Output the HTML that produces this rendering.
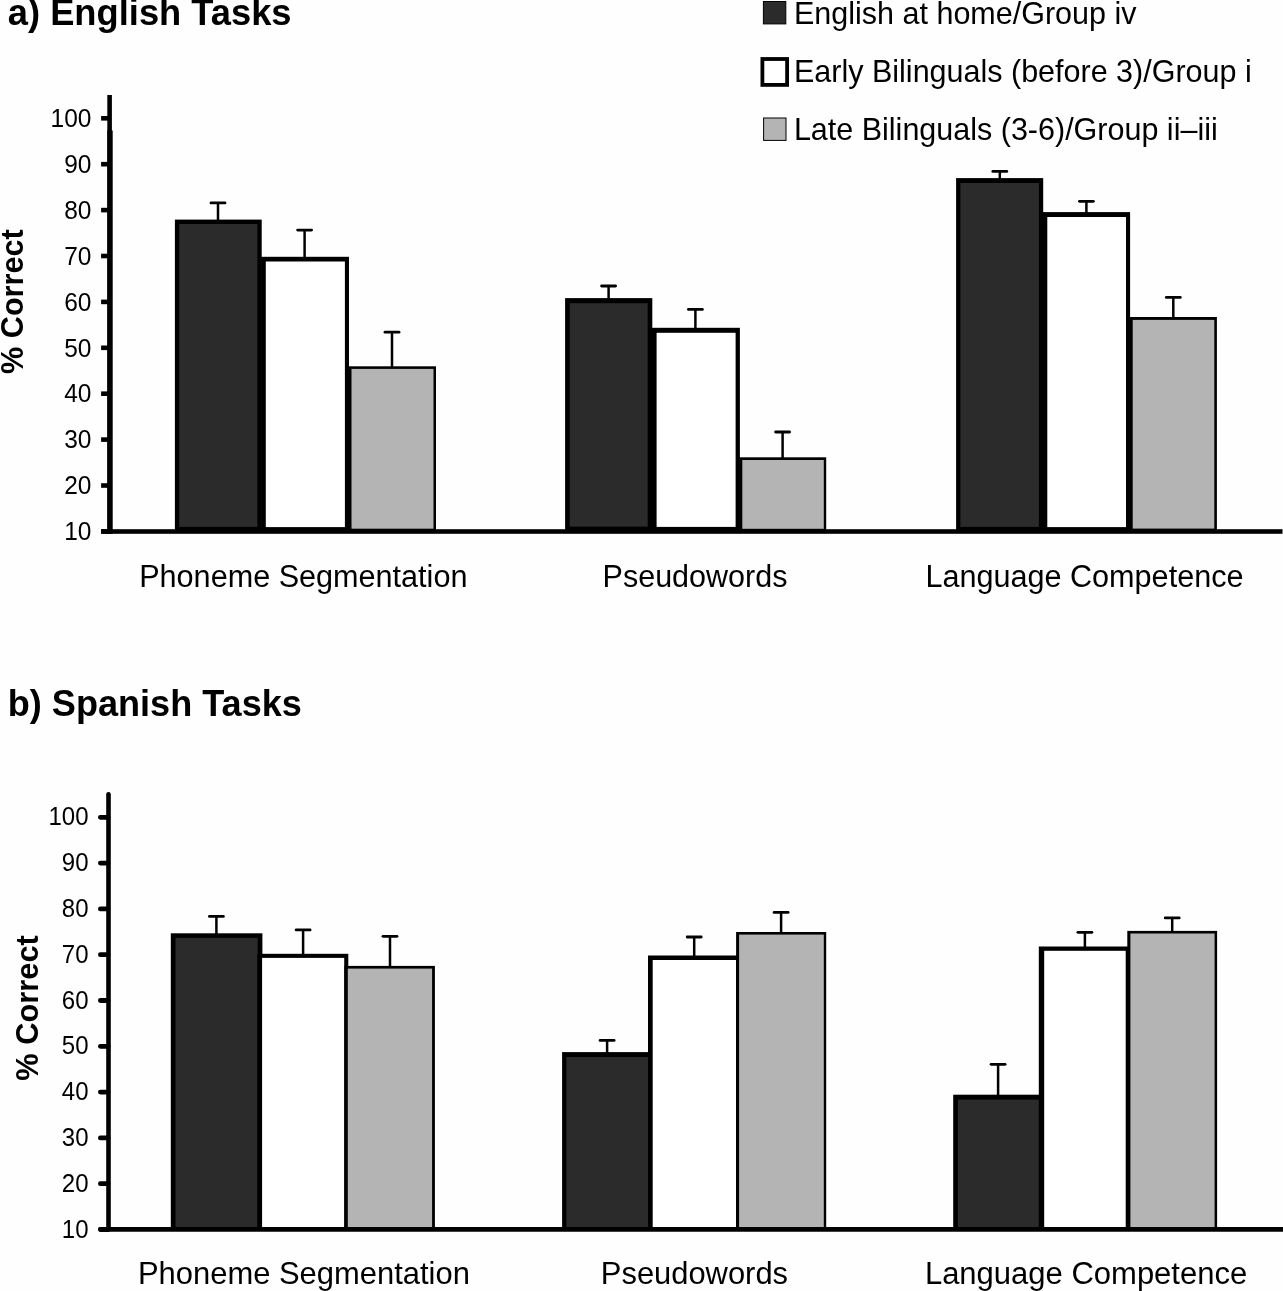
<!DOCTYPE html>
<html><head><meta charset="utf-8"><title>English and Spanish Tasks</title>
<style>
html,body{margin:0;padding:0;background:#fff;}
body{width:1283px;height:1291px;overflow:hidden;}
svg{display:block;font-family:"Liberation Sans",Arial,sans-serif;}
</style></head><body>
<svg width="1283" height="1291" viewBox="0 0 1283 1291">
<rect width="1283" height="1291" fill="#fefefe"/>
<text x="7.80" y="24.50" font-size="36.3" font-weight="bold" text-anchor="start">a) English Tasks</text>
<text x="7.80" y="715.90" font-size="36.1" font-weight="bold" text-anchor="start">b) Spanish Tasks</text>
<rect x="763.4" y="1.5" width="22.4" height="22.4" fill="#2b2b2b" stroke="#000" stroke-width="1"/>
<rect x="762.4" y="59.0" width="24.7" height="25.9" fill="#fff" stroke="#000" stroke-width="3.8"/>
<rect x="763.6" y="118.0" width="22.4" height="22.4" fill="#b4b4b4" stroke="#000" stroke-width="1"/>
<text x="794.00" y="23.60" font-size="30.5" text-anchor="start">English at home/Group iv</text>
<text x="794.00" y="81.90" font-size="30.5" text-anchor="start">Early Bilinguals (before 3)/Group i</text>
<text x="793.90" y="140.20" font-size="30.5" text-anchor="start">Late Bilinguals (3-6)/Group ii&#8211;iii</text>
<rect x="107.30" y="95.00" width="4.60" height="36.00" fill="#000"/>
<rect x="107.10" y="130.50" width="5.60" height="403.40" fill="#000"/>
<rect x="101.10" y="116.00" width="6.90" height="4.60" fill="#000"/>
<text transform="translate(91.40 127.00) scale(1 1.04)" font-size="24.5" text-anchor="end">100</text>
<rect x="101.10" y="161.90" width="6.90" height="4.60" fill="#000"/>
<text transform="translate(91.40 172.90) scale(1 1.04)" font-size="24.5" text-anchor="end">90</text>
<rect x="101.10" y="207.80" width="6.90" height="4.60" fill="#000"/>
<text transform="translate(91.40 218.80) scale(1 1.04)" font-size="24.5" text-anchor="end">80</text>
<rect x="101.10" y="253.70" width="6.90" height="4.60" fill="#000"/>
<text transform="translate(91.40 264.70) scale(1 1.04)" font-size="24.5" text-anchor="end">70</text>
<rect x="101.10" y="299.60" width="6.90" height="4.60" fill="#000"/>
<text transform="translate(91.40 310.60) scale(1 1.04)" font-size="24.5" text-anchor="end">60</text>
<rect x="101.10" y="345.50" width="6.90" height="4.60" fill="#000"/>
<text transform="translate(91.40 356.50) scale(1 1.04)" font-size="24.5" text-anchor="end">50</text>
<rect x="101.10" y="391.40" width="6.90" height="4.60" fill="#000"/>
<text transform="translate(91.40 402.40) scale(1 1.04)" font-size="24.5" text-anchor="end">40</text>
<rect x="101.10" y="437.30" width="6.90" height="4.60" fill="#000"/>
<text transform="translate(91.40 448.30) scale(1 1.04)" font-size="24.5" text-anchor="end">30</text>
<rect x="101.10" y="483.20" width="6.90" height="4.60" fill="#000"/>
<text transform="translate(91.40 494.20) scale(1 1.04)" font-size="24.5" text-anchor="end">20</text>
<rect x="101.10" y="529.10" width="6.90" height="4.60" fill="#000"/>
<text transform="translate(91.40 540.10) scale(1 1.04)" font-size="24.5" text-anchor="end">10</text>
<rect x="174.90" y="219.60" width="86.80" height="311.60" fill="#000"/>
<rect x="179.20" y="224.00" width="78.20" height="302.90" fill="#2b2b2b"/>
<rect x="261.10" y="256.80" width="87.90" height="274.40" fill="#000"/>
<rect x="265.80" y="261.50" width="79.10" height="265.60" fill="#fff"/>
<rect x="348.40" y="366.30" width="87.60" height="164.90" fill="#000"/>
<rect x="351.50" y="368.90" width="82.00" height="159.80" fill="#b4b4b4"/>
<rect x="565.10" y="298.10" width="87.20" height="233.10" fill="#000"/>
<rect x="569.70" y="303.20" width="78.00" height="223.40" fill="#2b2b2b"/>
<rect x="651.70" y="327.80" width="88.20" height="203.40" fill="#000"/>
<rect x="656.60" y="332.80" width="79.00" height="194.10" fill="#fff"/>
<rect x="739.30" y="457.30" width="86.90" height="73.90" fill="#000"/>
<rect x="742.30" y="460.00" width="81.50" height="68.80" fill="#b4b4b4"/>
<rect x="956.10" y="178.10" width="87.10" height="353.10" fill="#000"/>
<rect x="960.40" y="183.00" width="78.50" height="343.90" fill="#2b2b2b"/>
<rect x="1042.60" y="212.10" width="87.50" height="319.10" fill="#000"/>
<rect x="1047.30" y="217.00" width="78.70" height="310.10" fill="#fff"/>
<rect x="1129.50" y="317.00" width="87.40" height="214.20" fill="#000"/>
<rect x="1132.70" y="319.90" width="81.60" height="208.70" fill="#b4b4b4"/>
<rect x="101.10" y="529.20" width="1181.40" height="4.60" fill="#000"/>
<line x1="218.00" y1="202.90" x2="218.00" y2="220.60" stroke="#000" stroke-width="2.5"/>
<line x1="211.00" y1="202.90" x2="225.00" y2="202.90" stroke="#000" stroke-width="2.8" stroke-linecap="round"/>
<line x1="304.60" y1="230.10" x2="304.60" y2="257.80" stroke="#000" stroke-width="2.5"/>
<line x1="297.60" y1="230.10" x2="311.60" y2="230.10" stroke="#000" stroke-width="2.8" stroke-linecap="round"/>
<line x1="392.00" y1="332.20" x2="392.00" y2="367.30" stroke="#000" stroke-width="2.5"/>
<line x1="385.00" y1="332.20" x2="399.00" y2="332.20" stroke="#000" stroke-width="2.8" stroke-linecap="round"/>
<line x1="608.60" y1="286.00" x2="608.60" y2="299.10" stroke="#000" stroke-width="2.5"/>
<line x1="601.60" y1="286.00" x2="615.60" y2="286.00" stroke="#000" stroke-width="2.8" stroke-linecap="round"/>
<line x1="695.40" y1="309.40" x2="695.40" y2="328.80" stroke="#000" stroke-width="2.5"/>
<line x1="688.40" y1="309.40" x2="702.40" y2="309.40" stroke="#000" stroke-width="2.8" stroke-linecap="round"/>
<line x1="782.60" y1="432.00" x2="782.60" y2="458.30" stroke="#000" stroke-width="2.5"/>
<line x1="775.60" y1="432.00" x2="789.60" y2="432.00" stroke="#000" stroke-width="2.8" stroke-linecap="round"/>
<line x1="999.80" y1="171.40" x2="999.80" y2="179.10" stroke="#000" stroke-width="2.5"/>
<line x1="992.80" y1="171.40" x2="1006.80" y2="171.40" stroke="#000" stroke-width="2.8" stroke-linecap="round"/>
<line x1="1086.40" y1="201.30" x2="1086.40" y2="213.10" stroke="#000" stroke-width="2.5"/>
<line x1="1079.40" y1="201.30" x2="1093.40" y2="201.30" stroke="#000" stroke-width="2.8" stroke-linecap="round"/>
<line x1="1173.30" y1="297.40" x2="1173.30" y2="318.00" stroke="#000" stroke-width="2.5"/>
<line x1="1166.30" y1="297.40" x2="1180.30" y2="297.40" stroke="#000" stroke-width="2.8" stroke-linecap="round"/>
<text transform="translate(22.9 373.9) rotate(-90)" font-size="30.6" font-weight="bold">% Correct</text>
<text x="139.20" y="586.90" font-size="30.6" text-anchor="start">Phoneme Segmentation</text>
<text x="602.60" y="586.60" font-size="30.5" text-anchor="start">Pseudowords</text>
<text x="925.40" y="587.00" font-size="30.6" text-anchor="start">Language Competence</text>
<line x1="108.5" y1="794.3" x2="108.5" y2="1229.4" stroke="#000" stroke-width="4.6" stroke-linecap="round"/>
<line x1="100.4" y1="817.30" x2="108" y2="817.30" stroke="#000" stroke-width="4.8" stroke-linecap="round"/>
<text transform="translate(88.50 825.30) scale(1 1.04)" font-size="24.0" text-anchor="end">100</text>
<line x1="100.4" y1="863.10" x2="108" y2="863.10" stroke="#000" stroke-width="4.8" stroke-linecap="round"/>
<text transform="translate(88.50 871.10) scale(1 1.04)" font-size="24.0" text-anchor="end">90</text>
<line x1="100.4" y1="908.90" x2="108" y2="908.90" stroke="#000" stroke-width="4.8" stroke-linecap="round"/>
<text transform="translate(88.50 916.90) scale(1 1.04)" font-size="24.0" text-anchor="end">80</text>
<line x1="100.4" y1="954.70" x2="108" y2="954.70" stroke="#000" stroke-width="4.8" stroke-linecap="round"/>
<text transform="translate(88.50 962.70) scale(1 1.04)" font-size="24.0" text-anchor="end">70</text>
<line x1="100.4" y1="1000.50" x2="108" y2="1000.50" stroke="#000" stroke-width="4.8" stroke-linecap="round"/>
<text transform="translate(88.50 1008.50) scale(1 1.04)" font-size="24.0" text-anchor="end">60</text>
<line x1="100.4" y1="1046.30" x2="108" y2="1046.30" stroke="#000" stroke-width="4.8" stroke-linecap="round"/>
<text transform="translate(88.50 1054.30) scale(1 1.04)" font-size="24.0" text-anchor="end">50</text>
<line x1="100.4" y1="1092.10" x2="108" y2="1092.10" stroke="#000" stroke-width="4.8" stroke-linecap="round"/>
<text transform="translate(88.50 1100.10) scale(1 1.04)" font-size="24.0" text-anchor="end">40</text>
<line x1="100.4" y1="1137.90" x2="108" y2="1137.90" stroke="#000" stroke-width="4.8" stroke-linecap="round"/>
<text transform="translate(88.50 1145.90) scale(1 1.04)" font-size="24.0" text-anchor="end">30</text>
<line x1="100.4" y1="1183.70" x2="108" y2="1183.70" stroke="#000" stroke-width="4.8" stroke-linecap="round"/>
<text transform="translate(88.50 1191.70) scale(1 1.04)" font-size="24.0" text-anchor="end">20</text>
<line x1="100.4" y1="1229.50" x2="108" y2="1229.50" stroke="#000" stroke-width="4.8" stroke-linecap="round"/>
<text transform="translate(88.50 1237.50) scale(1 1.04)" font-size="24.0" text-anchor="end">10</text>
<rect x="170.80" y="933.30" width="91.60" height="296.10" fill="#000"/>
<rect x="175.50" y="937.90" width="82.20" height="291.50" fill="#2b2b2b"/>
<rect x="257.40" y="953.80" width="90.90" height="275.60" fill="#000"/>
<rect x="262.10" y="957.90" width="82.10" height="271.50" fill="#fff"/>
<rect x="344.40" y="965.90" width="90.50" height="263.50" fill="#000"/>
<rect x="347.80" y="968.60" width="84.30" height="260.80" fill="#b4b4b4"/>
<rect x="562.10" y="1052.10" width="90.60" height="177.30" fill="#000"/>
<rect x="566.40" y="1057.00" width="82.00" height="172.40" fill="#2b2b2b"/>
<rect x="648.00" y="955.50" width="92.20" height="273.90" fill="#000"/>
<rect x="652.70" y="960.00" width="83.40" height="269.40" fill="#fff"/>
<rect x="736.10" y="932.00" width="90.10" height="297.40" fill="#000"/>
<rect x="739.10" y="934.60" width="84.70" height="294.80" fill="#b4b4b4"/>
<rect x="953.20" y="1094.70" width="91.00" height="134.70" fill="#000"/>
<rect x="957.90" y="1099.60" width="81.60" height="129.80" fill="#2b2b2b"/>
<rect x="1038.80" y="946.50" width="91.70" height="282.90" fill="#000"/>
<rect x="1044.20" y="950.80" width="81.50" height="278.60" fill="#fff"/>
<rect x="1127.30" y="930.90" width="89.80" height="298.50" fill="#000"/>
<rect x="1130.40" y="933.50" width="84.20" height="295.90" fill="#b4b4b4"/>
<line x1="100.4" y1="1229.35" x2="1290" y2="1229.35" stroke="#000" stroke-width="4.7" stroke-linecap="round"/>
<line x1="216.40" y1="916.40" x2="216.40" y2="934.30" stroke="#000" stroke-width="2.5"/>
<line x1="209.40" y1="916.40" x2="223.40" y2="916.40" stroke="#000" stroke-width="2.8" stroke-linecap="round"/>
<line x1="303.10" y1="929.90" x2="303.10" y2="954.80" stroke="#000" stroke-width="2.5"/>
<line x1="296.10" y1="929.90" x2="310.10" y2="929.90" stroke="#000" stroke-width="2.8" stroke-linecap="round"/>
<line x1="390.00" y1="936.30" x2="390.00" y2="966.90" stroke="#000" stroke-width="2.5"/>
<line x1="383.00" y1="936.30" x2="397.00" y2="936.30" stroke="#000" stroke-width="2.8" stroke-linecap="round"/>
<line x1="607.10" y1="1040.40" x2="607.10" y2="1053.10" stroke="#000" stroke-width="2.5"/>
<line x1="600.10" y1="1040.40" x2="614.10" y2="1040.40" stroke="#000" stroke-width="2.8" stroke-linecap="round"/>
<line x1="694.20" y1="937.00" x2="694.20" y2="956.50" stroke="#000" stroke-width="2.5"/>
<line x1="687.20" y1="937.00" x2="701.20" y2="937.00" stroke="#000" stroke-width="2.8" stroke-linecap="round"/>
<line x1="781.10" y1="912.40" x2="781.10" y2="933.00" stroke="#000" stroke-width="2.5"/>
<line x1="774.10" y1="912.40" x2="788.10" y2="912.40" stroke="#000" stroke-width="2.8" stroke-linecap="round"/>
<line x1="998.10" y1="1064.30" x2="998.10" y2="1095.70" stroke="#000" stroke-width="2.5"/>
<line x1="991.10" y1="1064.30" x2="1005.10" y2="1064.30" stroke="#000" stroke-width="2.8" stroke-linecap="round"/>
<line x1="1084.90" y1="932.30" x2="1084.90" y2="947.50" stroke="#000" stroke-width="2.5"/>
<line x1="1077.90" y1="932.30" x2="1091.90" y2="932.30" stroke="#000" stroke-width="2.8" stroke-linecap="round"/>
<line x1="1172.20" y1="917.90" x2="1172.20" y2="931.90" stroke="#000" stroke-width="2.5"/>
<line x1="1165.20" y1="917.90" x2="1179.20" y2="917.90" stroke="#000" stroke-width="2.8" stroke-linecap="round"/>
<text transform="translate(38.2 1080.7) rotate(-90)" font-size="30.8" font-weight="bold">% Correct</text>
<text x="137.95" y="1284.00" font-size="30.95" text-anchor="start">Phoneme Segmentation</text>
<text x="600.85" y="1284.00" font-size="30.9" text-anchor="start">Pseudowords</text>
<text x="924.90" y="1284.00" font-size="31.0" text-anchor="start">Language Competence</text>
</svg>
</body></html>
